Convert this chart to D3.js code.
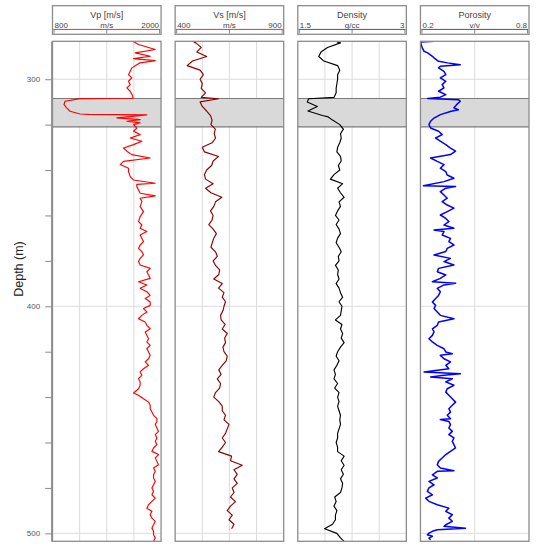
<!DOCTYPE html>
<html lang="en">
<head>
<meta charset="UTF-8">
<title>Well logs</title>
<style>
    body {
        margin: 0;
        background: #fff;
    }

    svg {
        display: block;
        font-family: 'Liberation Sans', Arial, sans-serif;
    }
</style>
</head>
<body>
<div id="chart"></div>

<script src="https://cdn.jsdelivr.net/npm/d3@7/dist/d3.min.js"></script>
<script>
    // Vp log: depth (m) and velocity (m/s)
    const vpDepth = [283.3, 284.7, 286.9, 288.4, 289.9, 290.9, 291.8, 292.8, 293.6, 295, 296.5, 298, 299.4, 300.9, 302.4, 303.8, 305.3, 307.5, 308.4, 308.55,
        309.7, 311.2, 312.6, 314.1, 315.3, 315.5, 315.7, 317, 317.8, 318.5, 319.2, 320, 321.5, 322.9, 324.4, 325.9, 327.3, 328.8, 330.3, 331.7,
        333.2, 334.7, 336.2, 337.6, 339.2, 340.7, 342.9, 344.4, 345.8, 346.3, 347.3, 348.8, 350.2, 351.4, 352.4, 353.9, 356.1, 358.3, 360.5, 362.7,
        364.2, 365.6, 367.1, 368.6, 370.1, 371.5, 373, 374.5, 375.9, 377.4, 378.9, 380.3, 381.8, 383.3, 384.8, 387.7, 389.2, 390.6, 392.1, 393.6,
        395.2, 396.6, 398.1, 399.6, 401, 402.5, 404, 405.5, 406.9, 408.4, 409.9, 411.3, 412.8, 414.3, 415.7, 417.2, 418.7, 420.1, 421.6, 423.1,
        424.5, 426, 427.5, 428.9, 430.4, 431.9, 433.3, 434.8, 436.3, 438.2, 439.2, 440.7, 442.2, 443.6, 445.1, 446.6, 448, 449.5,
        450.7, 452.1, 453.6, 455.1, 456.5, 458, 459.5, 460.9, 462.4, 463.9, 465.3, 466.8, 468.3, 469.8, 471.2, 472.7, 474.2, 475.6, 477.1, 478.6,
        480, 481.5, 483, 484.5, 485.9, 487.4, 488.9, 490.3, 491.8, 493.3, 494.7, 496.2, 497.7, 499.1, 500.6, 502.1, 503.5]
    const vp = [1688, 1751, 1936, 1714, 1880, 1696, 1936, 1769, 1732, 1677, 1659, 1640, 1677, 1640, 1659, 1622, 1659, 1688, 1688, 1105,
        938, 927, 957, 994, 1105, 1200, 1843, 1511, 1769, 1622, 1769, 1696, 1732, 1696, 1769, 1659, 1788, 1696, 1585, 1622,
        1677, 1880, 1585, 1548, 1640, 1640, 1659, 1696, 1936, 1732, 1732, 1751, 1769, 1936, 1769, 1788, 1769, 1806, 1769, 1751,
        1788, 1769, 1843, 1769, 1788, 1806, 1769, 1751, 1788, 1806, 1769, 1751, 1769, 1880, 1843, 1880, 1751, 1843, 1769, 1843,
        1880, 1825, 1880, 1880, 1806, 1843, 1788, 1751, 1825, 1843, 1880, 1825, 1843, 1862, 1843, 1880, 1843, 1862, 1880, 1862,
        1825, 1862, 1806, 1769, 1788, 1751, 1769, 1769, 1751, 1696, 1751, 1806, 1862, 1880, 1880, 1899, 1917, 1954,
        1954, 1936, 1954, 1972, 1936, 1954, 1936, 1954, 1917, 1899, 1972, 1936, 1954, 1972, 1917, 1936, 1917, 1917, 1936, 1917,
        1899, 1917, 1899, 1936, 1899, 1862, 1843, 1899, 1880, 1899, 1936, 1917, 1899, 1917, 1917, 1936, 1917]

    // Vs and density logs share these depths (m)
    const depth = [283.6, 284, 286, 288, 290, 292, 294, 296, 298, 300, 302, 304, 306, 308, 308.6, 310, 312, 314, 316, 316.6,
        318, 320, 322, 324, 326, 328, 330, 332, 334, 336, 338, 340, 342, 344, 346, 348, 350, 352, 354, 356,
        358, 360, 362, 364, 366, 368, 370, 372, 374, 376, 378, 380, 382, 384, 386, 388, 390, 392, 394, 396,
        398, 400, 402, 404, 406, 408, 410, 412, 414, 416, 418, 420, 422, 424, 426, 428, 430, 432, 434, 436,
        438, 440, 442, 444, 446, 448, 450, 452, 454, 456, 458, 460, 462, 464, 466, 468, 470, 472, 474, 476,
        478, 480, 482, 484, 486, 488, 490, 492, 494, 496, 498, 500, 502, 503.5]
    const vs = [485, 495, 520, 500, 545, 480, 455, 515, 530, 515, 525, 520, 540, 520, 600, 515, 525, 545, 563, 565,
        570, 565, 585, 580, 586, 570, 525, 535, 600, 575, 568, 545, 535, 540, 575, 540, 565, 615, 586, 578,
        563, 575, 570, 555, 575, 590, 578, 571, 565, 586, 594, 575, 586, 605, 601, 578, 617, 600, 625, 617,
        632, 625, 620, 609, 612, 630, 617, 640, 628, 632, 620, 625, 640, 635, 617, 601, 612, 594, 609, 605,
        586, 578, 601, 617, 617, 632, 625, 648, 640, 632, 617, 632, 617, 600, 660, 655, 709, 671, 686, 671,
        686, 663, 671, 655, 678, 655, 640, 663, 648, 671, 660, null, null, null]
    const density = [2.04, 2.09, 1.91, 1.82, 1.79, 1.86, 2.05, 2.08, 2.05, 2.05, 2.04, 2.03, 2.03, 2.00, 1.65, 1.63, 1.77, 1.64, 1.84, 1.92,
        1.98, 2.08, 2.13, 2.09, 2.10, 2.08, 2.05, 2.04, 2.09, 2.10, 2.06, 2.08, 2.00, 1.95, 2.12, 2.05, 2.09, 2.14, 2.07, 2.09,
        2.05, 2.02, 2.07, 2.03, 2.07, 2.09, 2.05, 2.03, 2.07, 2.10, 2.06, 2.07, 2.02, 2.06, 2.05, 2.07, 2.03, 2.07, 2.09, 2.12,
        2.07, 2.11, 2.10, 2.09, 2.02, 2.11, 2.09, 2.12, 2.10, 2.14, 2.09, 2.05, 2.03, 2.07, 2.04, 2.00, 2.02, 2.00, 2.05, 2.01,
        2.07, 2.05, 2.07, 2.05, 2.07, 2.09, 2.08, 2.09, 2.07, 2.05, 2.05, 2.03, 2.05, 2.05, 2.14, 2.10, 2.14, 2.10, 2.13, 2.09,
        2.12, 2.11, 2.09, 2.01, 2.03, 2.00, 2.04, 2.02, 2.02, 1.98, 1.87, 2.04, 2.09, 2.14]

    // porosity log: depth (m) and fraction (v/v)
    const porDepth = [283.3, 283.6, 286.2, 287.7, 288.4, 289.9, 290.6, 292.1, 292.8, 293.6, 294.3, 295, 296.5, 298, 299.4, 300.9, 302.4, 303.8, 305.3, 306.8,
        307.9, 308.5, 309, 309.7, 311.2, 312.6, 313.4, 314.1, 315.6, 317.1, 318.5, 320, 321.5, 322.9, 324.4, 325.9, 327.3, 328.8, 330.3, 331.7,
        333.2, 334.7, 336.2, 337.6, 339.2, 340.7, 342.2, 343.6, 345.1, 346.9, 347.2, 348, 349.5, 351, 352.4, 353.9, 355.4, 356.8, 358.3, 359.8,
        361.3, 362.7, 364.2, 365.6, 366.4, 367.1, 368.6, 370.1, 371.5, 373, 374.5, 375.9, 377.4, 378.9, 380.3, 381.8, 383.3, 384.8, 386.2, 387.7,
        389.2, 389.9, 390.6, 392.1, 393.6, 395.2, 396.6, 398.1, 399.6, 401, 402.5, 404, 405.5, 406.9, 408.4, 409.9, 411.3, 412.8, 414.3, 415.7,
        417.2, 418.7, 420.1, 420.9, 421.6, 423.1, 424.5, 426, 427.5, 428.9, 429.7, 430.4, 431.1, 431.9, 433.3, 434.8, 436.3, 437.8, 439.2, 440.7,
        442.2, 443.6, 445.1, 446.6, 448, 449.5, 449.9, 450.7, 452.1, 453.6, 455.1, 456.5, 458, 459.5, 460.9, 462.4, 463.9, 465.3, 466.8, 468.3,
        469.8, 471.2, 472.4, 472.7, 474.2, 475.6, 477.1, 478.6, 480, 481.5, 483, 484.5, 485.9, 487.4, 488.9, 490.3, 491.8, 493.3, 494.7, 496.2,
        496.9, 497.7, 498.4, 499.1, 499.9, 500.6, 501.3, 502.1, 502.8]
    const porosity = [0.275, 0.20, 0.21, 0.22, 0.24, 0.266, 0.275, 0.30, 0.35, 0.42, 0.31, 0.30, 0.33, 0.34, 0.31, 0.34, 0.32, 0.33, 0.30, 0.34,
        0.31, 0.24, 0.41, 0.42, 0.40, 0.385, 0.41, 0.37, 0.31, 0.275, 0.256, 0.247, 0.256, 0.30, 0.32, 0.284, 0.31, 0.34, 0.366, 0.394,
        0.366, 0.256, 0.293, 0.33, 0.31, 0.34, 0.348, 0.385, 0.33, 0.216, 0.394, 0.34, 0.31, 0.33, 0.348, 0.32, 0.348, 0.385, 0.348, 0.31,
        0.34, 0.357, 0.33, 0.385, 0.275, 0.33, 0.32, 0.366, 0.357, 0.385, 0.348, 0.34, 0.275, 0.366, 0.33, 0.385, 0.30, 0.293, 0.34, 0.31,
        0.266, 0.394, 0.33, 0.293, 0.31, 0.30, 0.284, 0.266, 0.284, 0.275, 0.293, 0.31, 0.385, 0.30, 0.293, 0.266, 0.275, 0.266, 0.247, 0.266,
        0.293, 0.33, 0.34, 0.376, 0.31, 0.33, 0.366, 0.34, 0.357, 0.22, 0.421, 0.33, 0.256, 0.376, 0.34, 0.385, 0.348, 0.34, 0.357, 0.376,
        0.394, 0.376, 0.357, 0.366, 0.348, 0.366, 0.31, 0.357, 0.366, 0.357, 0.376, 0.357, 0.385, 0.376, 0.385, 0.394, 0.366, 0.34, 0.32, 0.30,
        0.293, 0.31, 0.385, 0.293, 0.266, 0.293, 0.247, 0.275, 0.247, 0.238, 0.266, 0.229, 0.247, 0.293, 0.357, 0.34, 0.376, 0.357, 0.376, 0.34,
        0.33, 0.449, 0.293, 0.266, 0.247, 0.238, 0.266, 0.247, 0.256]

    const trackNames = ['Vp [m/s]', 'Vs [m/s]', 'Density', 'Porosity']
    const trackUnits = ['m/s', 'm/s', 'g/cc', 'v/v']
    const trackMin = [800, 400, 1.5, 0.2]
    const trackMax = [2000, 900, 3, 0.8]
    const trackLabels = [['800', '2000'], ['400', '900'], ['1.5', '3'], ['0.2', '0.8']]
    const trackDivisions = [4, 4, 4, 2]
    const trackDepths = [vpDepth, depth, depth, porDepth]
    const trackValues = [vp, vs, density, porosity]
    const trackColors = ['#ff0000', '#8b0000', '#000000', '#0000ff']
    const scaleColors = ['#ff2a2a', '#ff2a2a', '#555555', '#555555']

    // shaded interval (m)
    const zone = [308.5, 321]
    const depthTicks = d3.range(300, 501, 20)
    const depthGrid = [300, 400, 500]

    const width = 537
    const height = 550
    const plotTop = 41.3
    const plotBottom = 541.3

    const svg = d3.select('#chart')
        .append('svg')
        .attr('width', width)
        .attr('height', height)

    const yScale = d3.scaleLinear()
        .domain([283.3, 503.5])
        .range([plotTop, plotBottom])

    const trackScale = d3.scaleBand()
        .domain(trackNames)
        .range([52.5, 529])
        .paddingInner(0.115)

    drawAxis()
    trackNames.forEach((name, i) => drawTrack(name, i))

    function drawAxis() {
        const axis = d3.axisLeft(yScale)
            .tickValues(depthTicks)
            .tickFormat(d => d % 100 === 0 ? d : '')
            .tickSize(6)
            .tickSizeOuter(0)
            .tickPadding(5)

        const g = svg.append('g')
            .attr('transform', 'translate(51.2,0)')
            .call(axis)
        g.select('.domain').attr('stroke', '#9a9a9a').attr('stroke-width', 1.5)
        g.selectAll('.tick line').attr('stroke', '#8a8a8a')
        g.selectAll('.tick text')
            .attr('fill', '#555')
            .style('font-size', '8px')
            .style('font-family', "'Liberation Sans', Arial, sans-serif")

        svg.append('text')
            .attr('transform', 'translate(22.5,269) rotate(-90)')
            .attr('text-anchor', 'middle')
            .attr('fill', '#222')
            .style('font-size', '12.5px')
            .text('Depth (m)')
    }

    function drawTrack(name, i) {
        const x0 = trackScale(name)
        const w = trackScale.bandwidth()
        const xScale = d3.scaleLinear()
            .domain([trackMin[i], trackMax[i]])
            .range([x0, x0 + w])
        const values = trackValues[i]
        const depths = trackDepths[i]

        // header box
        const head = svg.append('g').attr('class', 'track-head')
        head.append('rect')
            .attr('x', x0)
            .attr('y', 5.7)
            .attr('width', w)
            .attr('height', 28.6)
            .attr('fill', '#fff')
            .attr('stroke', '#8c8c8c')
            .attr('stroke-width', 1.3)
        head.append('text')
            .attr('x', x0 + w / 2)
            .attr('y', 17.8)
            .attr('text-anchor', 'middle')
            .attr('fill', '#444')
            .style('font-size', '9px')
            .text(name)
        const labels = [
            { v: trackMin[i], t: trackLabels[i][0], a: 'start', dx: 2 },
            { v: (trackMin[i] + trackMax[i]) / 2, t: trackUnits[i], a: 'middle', dx: 0 },
            { v: trackMax[i], t: trackLabels[i][1], a: 'end', dx: -2 }
        ]
        head.selectAll('.lbl')
            .data(labels)
            .join('text')
            .attr('class', 'lbl')
            .attr('x', d => xScale(d.v) + d.dx)
            .attr('y', 27.6)
            .attr('text-anchor', d => d.a)
            .attr('fill', '#444')
            .style('font-size', '8px')
            .text(d => d.t)
        head.append('line')
            .attr('x1', xScale(trackMin[i]) + 1)
            .attr('x2', xScale(trackMax[i]) - 1)
            .attr('y1', 29.4)
            .attr('y2', 29.4)
            .attr('stroke', scaleColors[i])
            .attr('stroke-width', 1)
        head.selectAll('.htick')
            .data(labels)
            .join('line')
            .attr('class', 'htick')
            .attr('x1', d => Math.min(Math.max(xScale(d.v), x0 + 1.5), x0 + w - 1.5))
            .attr('x2', d => Math.min(Math.max(xScale(d.v), x0 + 1.5), x0 + w - 1.5))
            .attr('y1', 29.4)
            .attr('y2', 33.4)
            .attr('stroke', '#666')
            .attr('stroke-width', 0.8)

        // plot area
        const g = svg.append('g').attr('class', 'track')
        const clipId = 'clip-' + i
        g.append('clipPath')
            .attr('id', clipId)
            .append('rect')
            .attr('x', x0)
            .attr('y', plotTop)
            .attr('width', w)
            .attr('height', plotBottom - plotTop)

        const gridX = d3.range(1, trackDivisions[i]).map(k =>
            trackMin[i] + k * (trackMax[i] - trackMin[i]) / trackDivisions[i])
        g.selectAll('.vgrid')
            .data(gridX)
            .join('line')
            .attr('class', 'vgrid')
            .attr('x1', d => xScale(d))
            .attr('x2', d => xScale(d))
            .attr('y1', plotTop)
            .attr('y2', plotBottom)
            .attr('stroke', '#dcdcdc')
            .attr('stroke-width', 1)
        g.selectAll('.hgrid')
            .data(depthGrid)
            .join('line')
            .attr('class', 'hgrid')
            .attr('x1', x0)
            .attr('x2', x0 + w)
            .attr('y1', d => yScale(d))
            .attr('y2', d => yScale(d))
            .attr('stroke', '#dcdcdc')
            .attr('stroke-width', 1)

        // shaded zone
        g.append('rect')
            .attr('x', x0)
            .attr('y', yScale(zone[0]))
            .attr('width', w)
            .attr('height', yScale(zone[1]) - yScale(zone[0]))
            .attr('fill', '#d9d9d9')
        g.selectAll('.zline')
            .data(zone)
            .join('line')
            .attr('class', 'zline')
            .attr('x1', x0)
            .attr('x2', x0 + w)
            .attr('y1', d => yScale(d))
            .attr('y2', d => yScale(d))
            .attr('stroke', '#7a7a7a')
            .attr('stroke-width', 1.2)

        const line = d3.line()
            .defined(k => values[k] != null)
            .x(k => xScale(values[k]))
            .y(k => yScale(depths[k]))

        g.append('path')
            .datum(d3.range(depths.length))
            .attr('clip-path', `url(#${clipId})`)
            .attr('fill', 'none')
            .attr('stroke', trackColors[i])
            .attr('stroke-width', i === 3 ? 1.5 : 1.15)
            .attr('stroke-linejoin', 'round')
            .attr('d', line)

        g.append('rect')
            .attr('x', x0)
            .attr('y', plotTop)
            .attr('width', w)
            .attr('height', plotBottom - plotTop)
            .attr('fill', 'none')
            .attr('stroke', '#8c8c8c')
            .attr('stroke-width', 1.3)
    }
</script>
</body>
</html>
